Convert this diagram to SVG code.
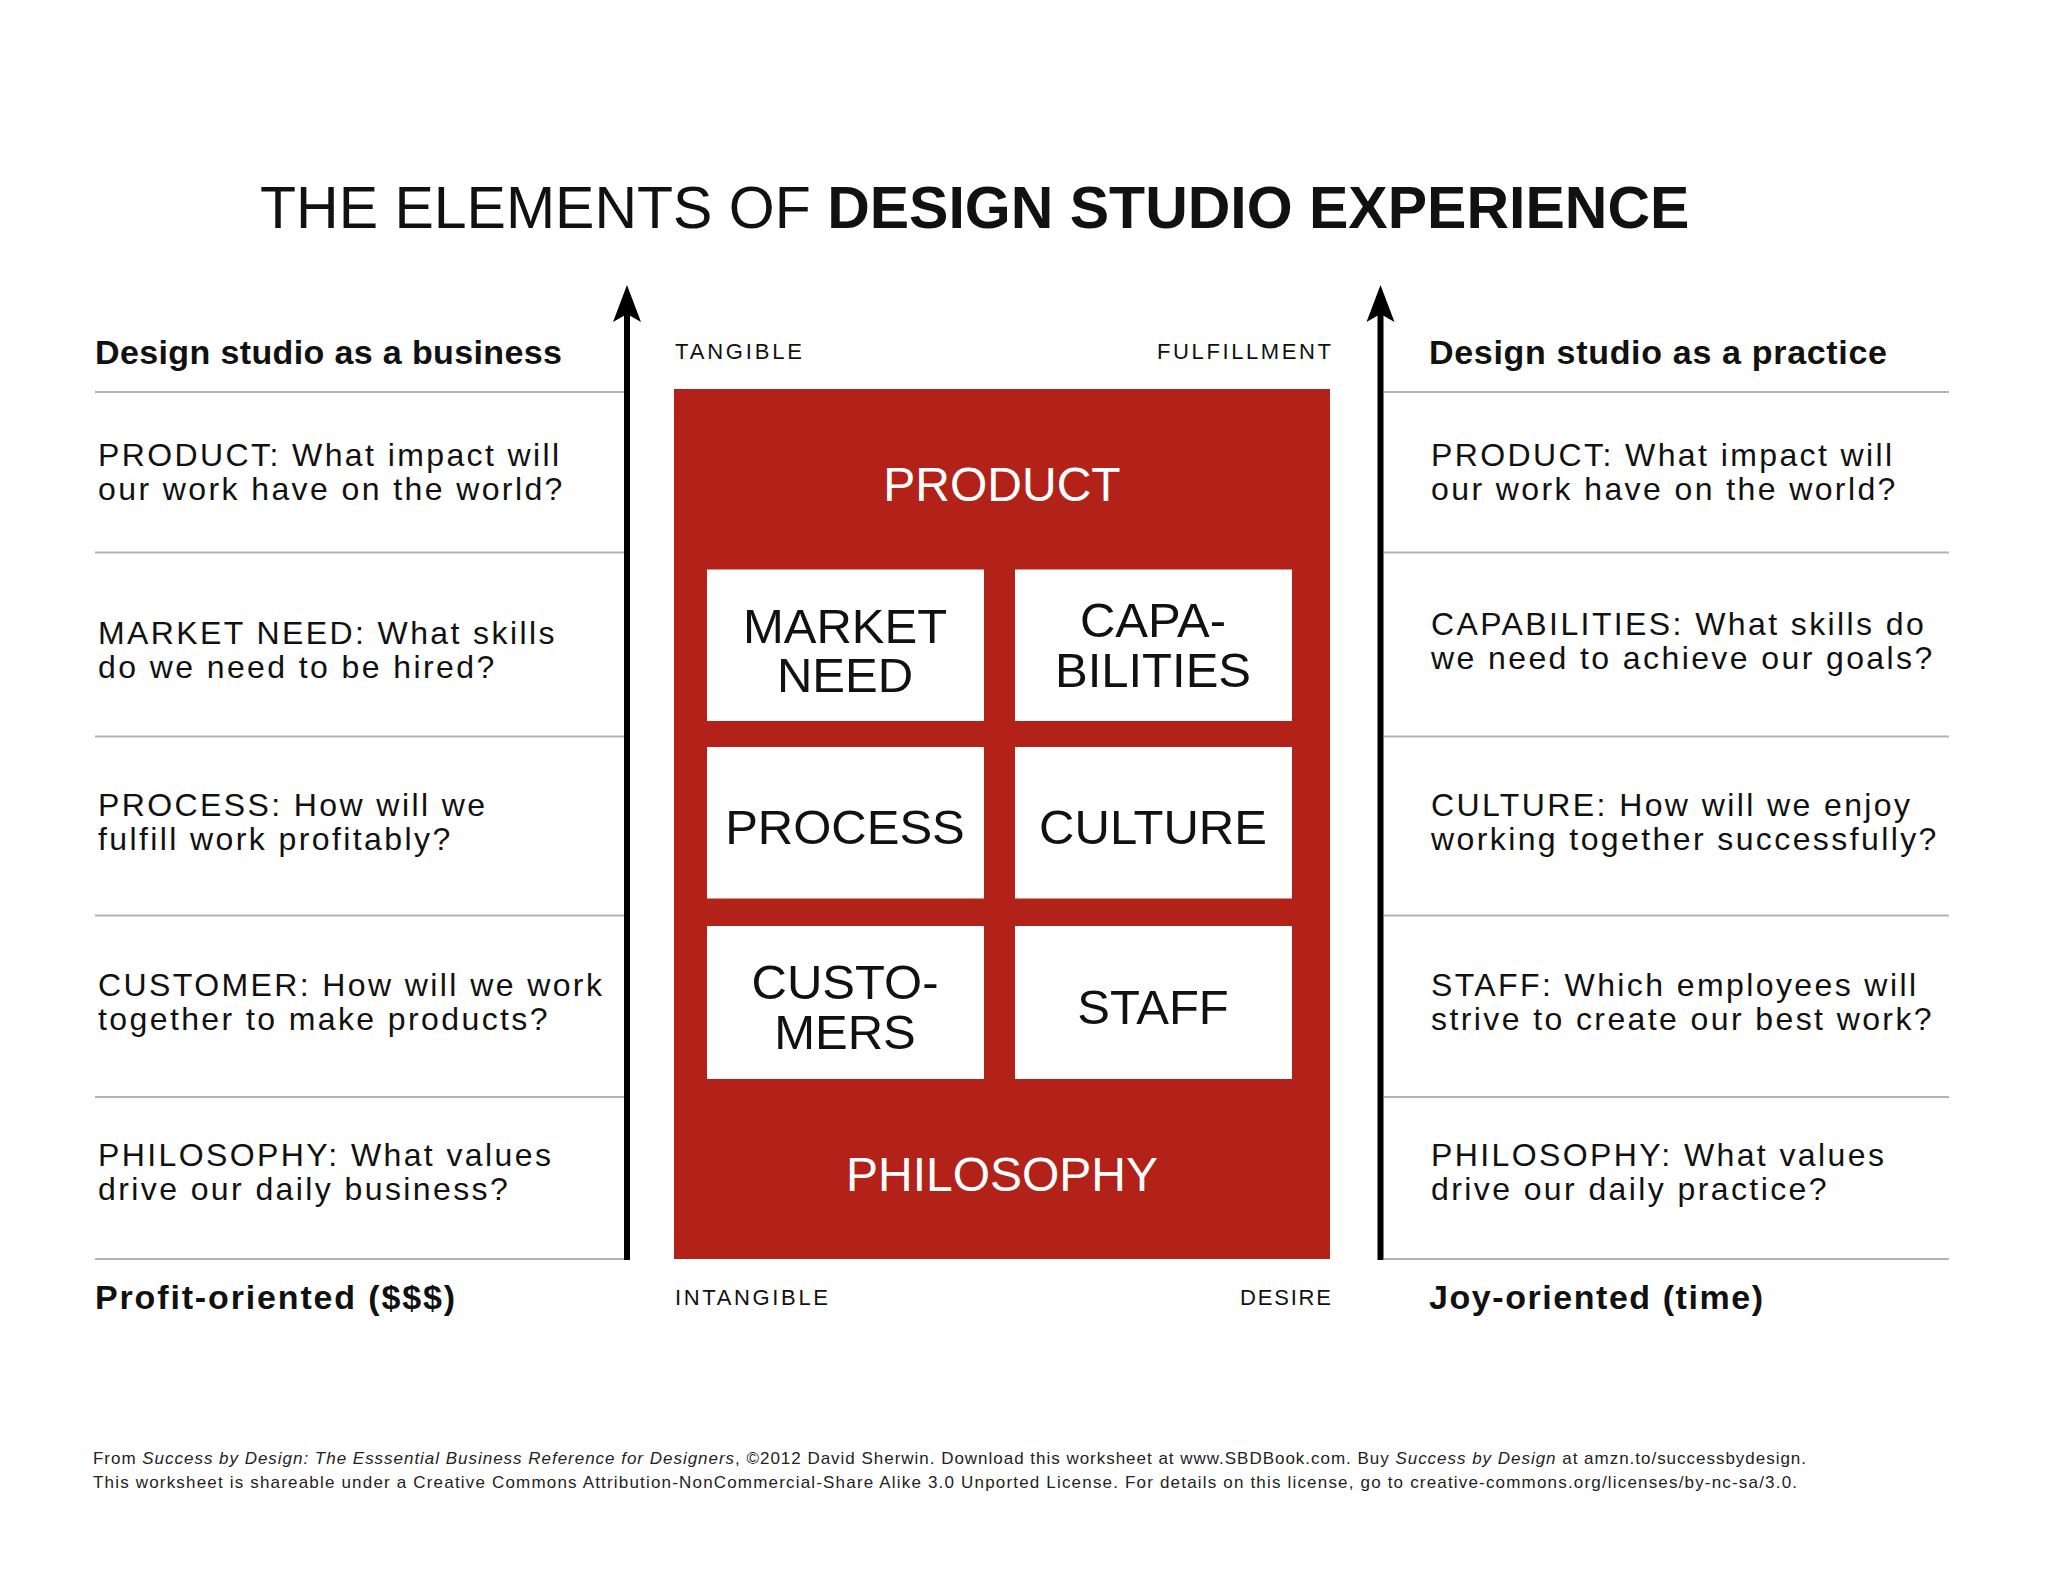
<svg xmlns="http://www.w3.org/2000/svg" width="2048" height="1582" viewBox="0 0 2048 1582">
<style>
.t{font-family:"Liberation Sans",Arial,sans-serif;fill:#111}
.title{font-size:59px}
.hd{font-size:34px;font-weight:bold}
.q{font-size:32px;letter-spacing:2.4px}
.ax{font-size:22px}
.big{font-size:48px;fill:#fff;text-anchor:middle}
.box{font-size:49px;text-anchor:middle}
.ft{font-size:17px;fill:#222}
.rule{stroke:#b3b3b3;stroke-width:2}
.arrow{stroke:#000;stroke-width:6;fill:none}
.cell{fill:#fff}
</style>
<defs>
<marker id="ah" markerUnits="userSpaceOnUse" viewBox="0 0 40 30" markerWidth="40" markerHeight="30" refX="25" refY="15" orient="auto">
<path d="M40,15 L3,1 L11,15 L3,29 Z" fill="#000"/>
</marker>
</defs>
<rect width="2048" height="1582" fill="#fff"/>

<g id="title">
<text class="t title" x="260" y="228"><tspan>THE ELEMENTS OF </tspan><tspan font-weight="bold">DESIGN STUDIO EXPERIENCE</tspan></text>
</g>

<g id="rules">
<line class="rule" x1="95" y1="392" x2="624" y2="392"/>
<line class="rule" x1="95" y1="552.5" x2="624" y2="552.5"/>
<line class="rule" x1="95" y1="736.5" x2="624" y2="736.5"/>
<line class="rule" x1="95" y1="915.5" x2="624" y2="915.5"/>
<line class="rule" x1="95" y1="1097" x2="624" y2="1097"/>
<line class="rule" x1="95" y1="1259" x2="624" y2="1259"/>
<line class="rule" x1="1384" y1="392" x2="1949" y2="392"/>
<line class="rule" x1="1384" y1="552.5" x2="1949" y2="552.5"/>
<line class="rule" x1="1384" y1="736.5" x2="1949" y2="736.5"/>
<line class="rule" x1="1384" y1="915.5" x2="1949" y2="915.5"/>
<line class="rule" x1="1384" y1="1097" x2="1949" y2="1097"/>
<line class="rule" x1="1384" y1="1259" x2="1949" y2="1259"/>
</g>

<g id="connectors">
<line class="arrow" x1="627" y1="1260" x2="627" y2="300" marker-end="url(#ah)"/>
<line class="arrow" x1="1380.5" y1="1260" x2="1380.5" y2="300" marker-end="url(#ah)"/>
</g>

<g id="left-column">
<text class="t hd" x="95" y="364" textLength="467" lengthAdjust="spacing">Design studio as a business</text>
<text class="t q" x="98" y="466">PRODUCT: What impact will</text>
<text class="t q" x="98" y="500">our work have on the world?</text>
<text class="t q" x="98" y="644">MARKET NEED: What skills</text>
<text class="t q" x="98" y="678">do we need to be hired?</text>
<text class="t q" x="98" y="816">PROCESS: How will we</text>
<text class="t q" x="98" y="850">fulfill work profitably?</text>
<text class="t q" x="98" y="996">CUSTOMER: How will we work</text>
<text class="t q" x="98" y="1030">together to make products?</text>
<text class="t q" x="98" y="1166">PHILOSOPHY: What values</text>
<text class="t q" x="98" y="1200">drive our daily business?</text>
<text class="t hd" x="95" y="1309" textLength="360" lengthAdjust="spacing">Profit-oriented ($$$)</text>
</g>

<g id="right-column">
<text class="t hd" x="1429" y="364" textLength="458" lengthAdjust="spacing">Design studio as a practice</text>
<text class="t q" x="1431" y="466">PRODUCT: What impact will</text>
<text class="t q" x="1431" y="500">our work have on the world?</text>
<text class="t q" x="1431" y="635">CAPABILITIES: What skills do</text>
<text class="t q" x="1431" y="669">we need to achieve our goals?</text>
<text class="t q" x="1431" y="816">CULTURE: How will we enjoy</text>
<text class="t q" x="1431" y="850">working together successfully?</text>
<text class="t q" x="1431" y="996">STAFF: Which employees will</text>
<text class="t q" x="1431" y="1030">strive to create our best work?</text>
<text class="t q" x="1431" y="1166">PHILOSOPHY: What values</text>
<text class="t q" x="1431" y="1200">drive our daily practice?</text>
<text class="t hd" x="1429" y="1309" textLength="334" lengthAdjust="spacing">Joy-oriented (time)</text>
</g>

<g id="axis-labels">
<text class="t ax" x="675" y="359" textLength="127" lengthAdjust="spacing">TANGIBLE</text>
<text class="t ax" x="1157" y="359" textLength="174" lengthAdjust="spacing">FULFILLMENT</text>
<text class="t ax" x="675" y="1305" textLength="153" lengthAdjust="spacing">INTANGIBLE</text>
<text class="t ax" x="1240" y="1305" textLength="91" lengthAdjust="spacing">DESIRE</text>
</g>

<g id="studio">
<rect x="674" y="389" width="656" height="870" fill="#B22219"/>
<text class="t big" x="1002" y="501">PRODUCT</text>
<text class="t big" x="1002" y="1191">PHILOSOPHY</text>
</g>

<g id="market-need">
<rect class="cell" x="707" y="569.5" width="277" height="151.5"/>
<text class="t box" x="845" y="643">MARKET</text>
<text class="t box" x="845" y="692">NEED</text>
</g>
<g id="capabilities">
<rect class="cell" x="1015" y="569.5" width="277" height="151.5"/>
<text class="t box" x="1153" y="637">CAPA-</text>
<text class="t box" x="1153" y="687">BILITIES</text>
</g>
<g id="process">
<rect class="cell" x="707" y="747" width="277" height="151.5"/>
<text class="t box" x="845" y="844">PROCESS</text>
</g>
<g id="culture">
<rect class="cell" x="1015" y="747" width="277" height="151.5"/>
<text class="t box" x="1153" y="844">CULTURE</text>
</g>
<g id="customers">
<rect class="cell" x="707" y="926" width="277" height="153"/>
<text class="t box" x="845" y="999">CUSTO-</text>
<text class="t box" x="845" y="1049">MERS</text>
</g>
<g id="staff">
<rect class="cell" x="1015" y="926" width="277" height="153"/>
<text class="t box" x="1153" y="1024">STAFF</text>
</g>

<g id="footer">
<text class="t ft" x="93" y="1464" textLength="1713" lengthAdjust="spacing">From <tspan font-style="italic">Success by Design: The Esssential Business Reference for Designers</tspan>, ©2012 David Sherwin. Download this worksheet at www.SBDBook.com. Buy <tspan font-style="italic">Success by Design</tspan> at amzn.to/successbydesign.</text>
<text class="t ft" x="93" y="1488" textLength="1704" lengthAdjust="spacing">This worksheet is shareable under a Creative Commons Attribution-NonCommercial-Share Alike 3.0 Unported License. For details on this license, go to creative-commons.org/licenses/by-nc-sa/3.0.</text>
</g>
</svg>
